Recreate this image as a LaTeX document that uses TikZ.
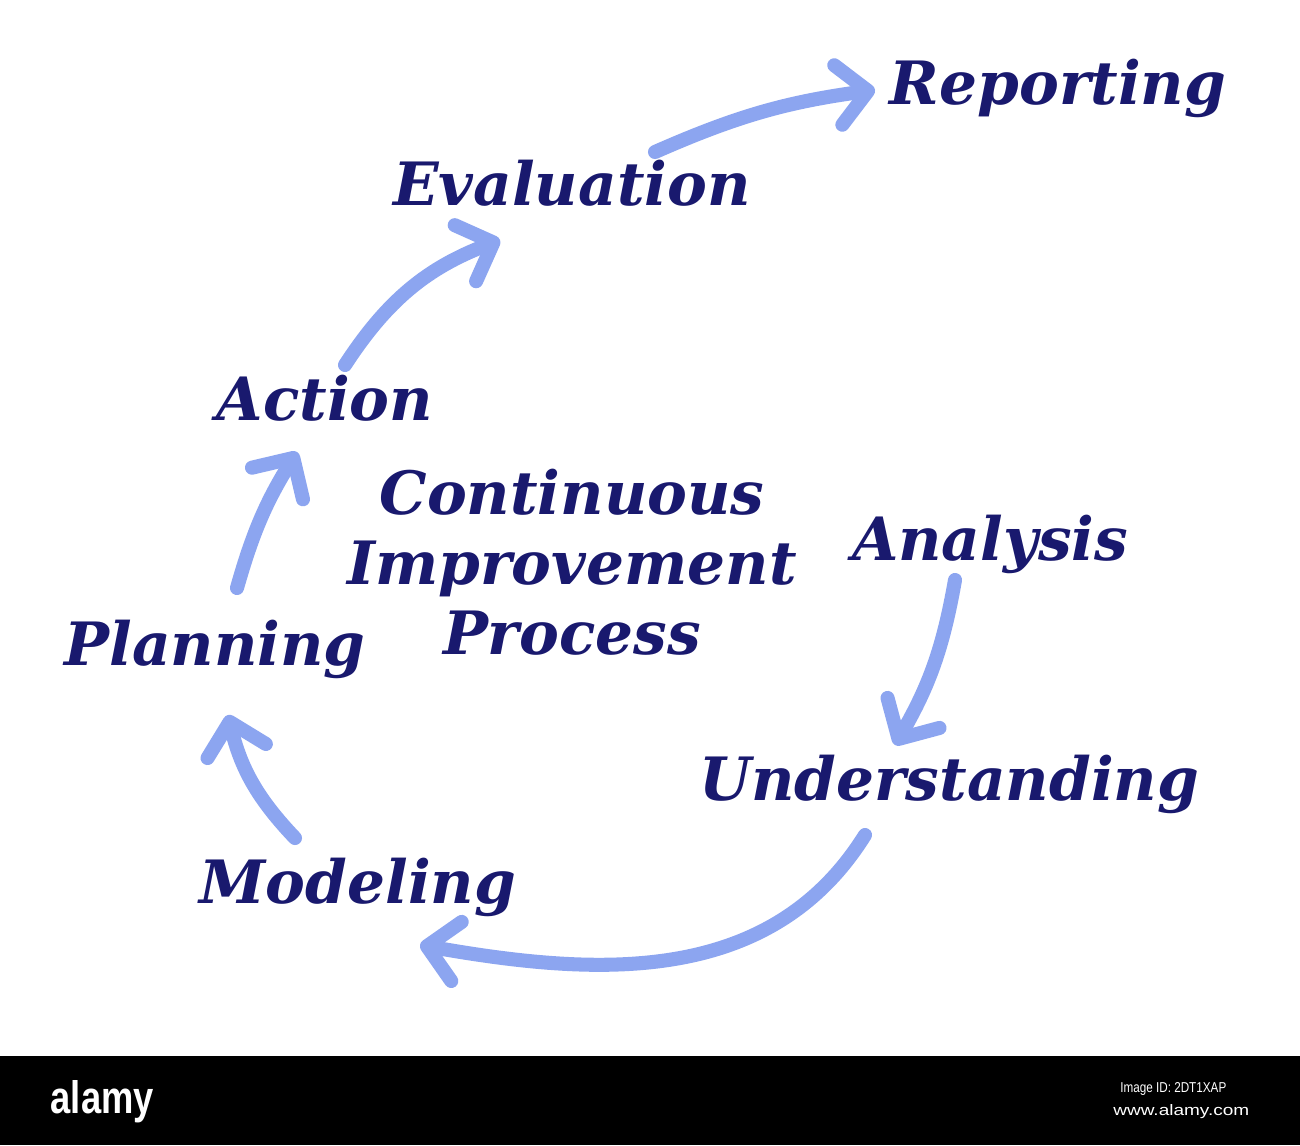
\documentclass[tikz,border=0pt]{standalone}
\usepackage{fontspec}
\usepackage{graphicx}
\setmainfont{DejaVu Serif}
\setsansfont{Liberation Sans}
\usetikzlibrary{arrows.meta}

\definecolor{inkblue}{RGB}{25,25,110}
\definecolor{arrowblue}{RGB}{140,165,240}

\tikzset{
  stage/.style={anchor=base, inner sep=0pt, text=inkblue, font=\fontsize{17}{20}\selectfont\bfseries\itshape},
  flow/.style={arrowblue, line width=4pt, line cap=round, -{Straight Barb[length=3mm, width=6mm, line cap=round, line join=round]}}
}

\begin{document}
\begin{tikzpicture}
% Set the page size
\fill[white] (0, 0) rectangle (13, 11.45);
\useasboundingbox (0, 0) rectangle (13, 11.45);

% Place the stages
\node[stage] (reporting) at (10.58, 10.40) {Reporting};
\node[stage] (evaluation) at (5.72, 9.40) {Evaluation};
\node[stage] (action) at (3.25, 7.25) {Action};
\node[stage] (analysis) at (9.90, 5.85) {Analysis};
\node[stage] (planning) at (2.15, 4.80) {Planning};
\node[stage] (understanding) at (9.49, 3.45) {Understanding};
\node[stage] (modeling) at (3.58, 2.42) {Modeling};
\node[stage, anchor=center, align=center, font=\fontsize{17}{19.9}\selectfont\bfseries\itshape] (title) at (5.72, 5.83) {Continuous\\Improvement\\Process};

% Draw the arrows
\draw[flow] ([shift={(0.22, 0.77)}]planning.base) to[bend left=8] ([shift={(-0.28, -0.32)}]action.base);
\draw[flow] ([shift={(0.20, 0.55)}]action.base) to[bend left=18] ([shift={(-0.72, -0.35)}]evaluation.base);
\draw[flow] ([shift={(0.83, 0.53)}]evaluation.base) to[bend left=8] ([shift={(-1.83, 0.15)}]reporting.base);
\draw[flow] ([shift={(-0.35, -0.20)}]analysis.base) to[bend left=10] ([shift={(-0.54, 0.55)}]understanding.base);
\draw[flow] ([shift={(-0.84, -0.35)}]understanding.base) to[out=-122, in=-10] ([shift={(0.62, -0.42)}]modeling.base);
\draw[flow] ([shift={(-0.63, 0.65)}]modeling.base) to[bend left=15] ([shift={(0.13, -0.50)}]planning.base);

% Stock bar at the bottom
\fill[black] (0, 0) rectangle (13, 0.89);
\node[anchor=base west, inner sep=0pt, text=white, font=\sffamily\bfseries] (logo) at (0.50, 0.32) {\resizebox{1.03cm}{0.33cm}{alamy}};
\node[anchor=base east, inner sep=0pt, text=white, font=\sffamily] (imageid) at (12.27, 0.53) {\resizebox{1.06cm}{0.10cm}{Image ID: 2DT1XAP}};
\node[anchor=base east, inner sep=0pt, text=white, font=\sffamily] (site) at (12.50, 0.30) {\resizebox{1.36cm}{0.11cm}{www.alamy.com}};
\end{tikzpicture}
\end{document}
